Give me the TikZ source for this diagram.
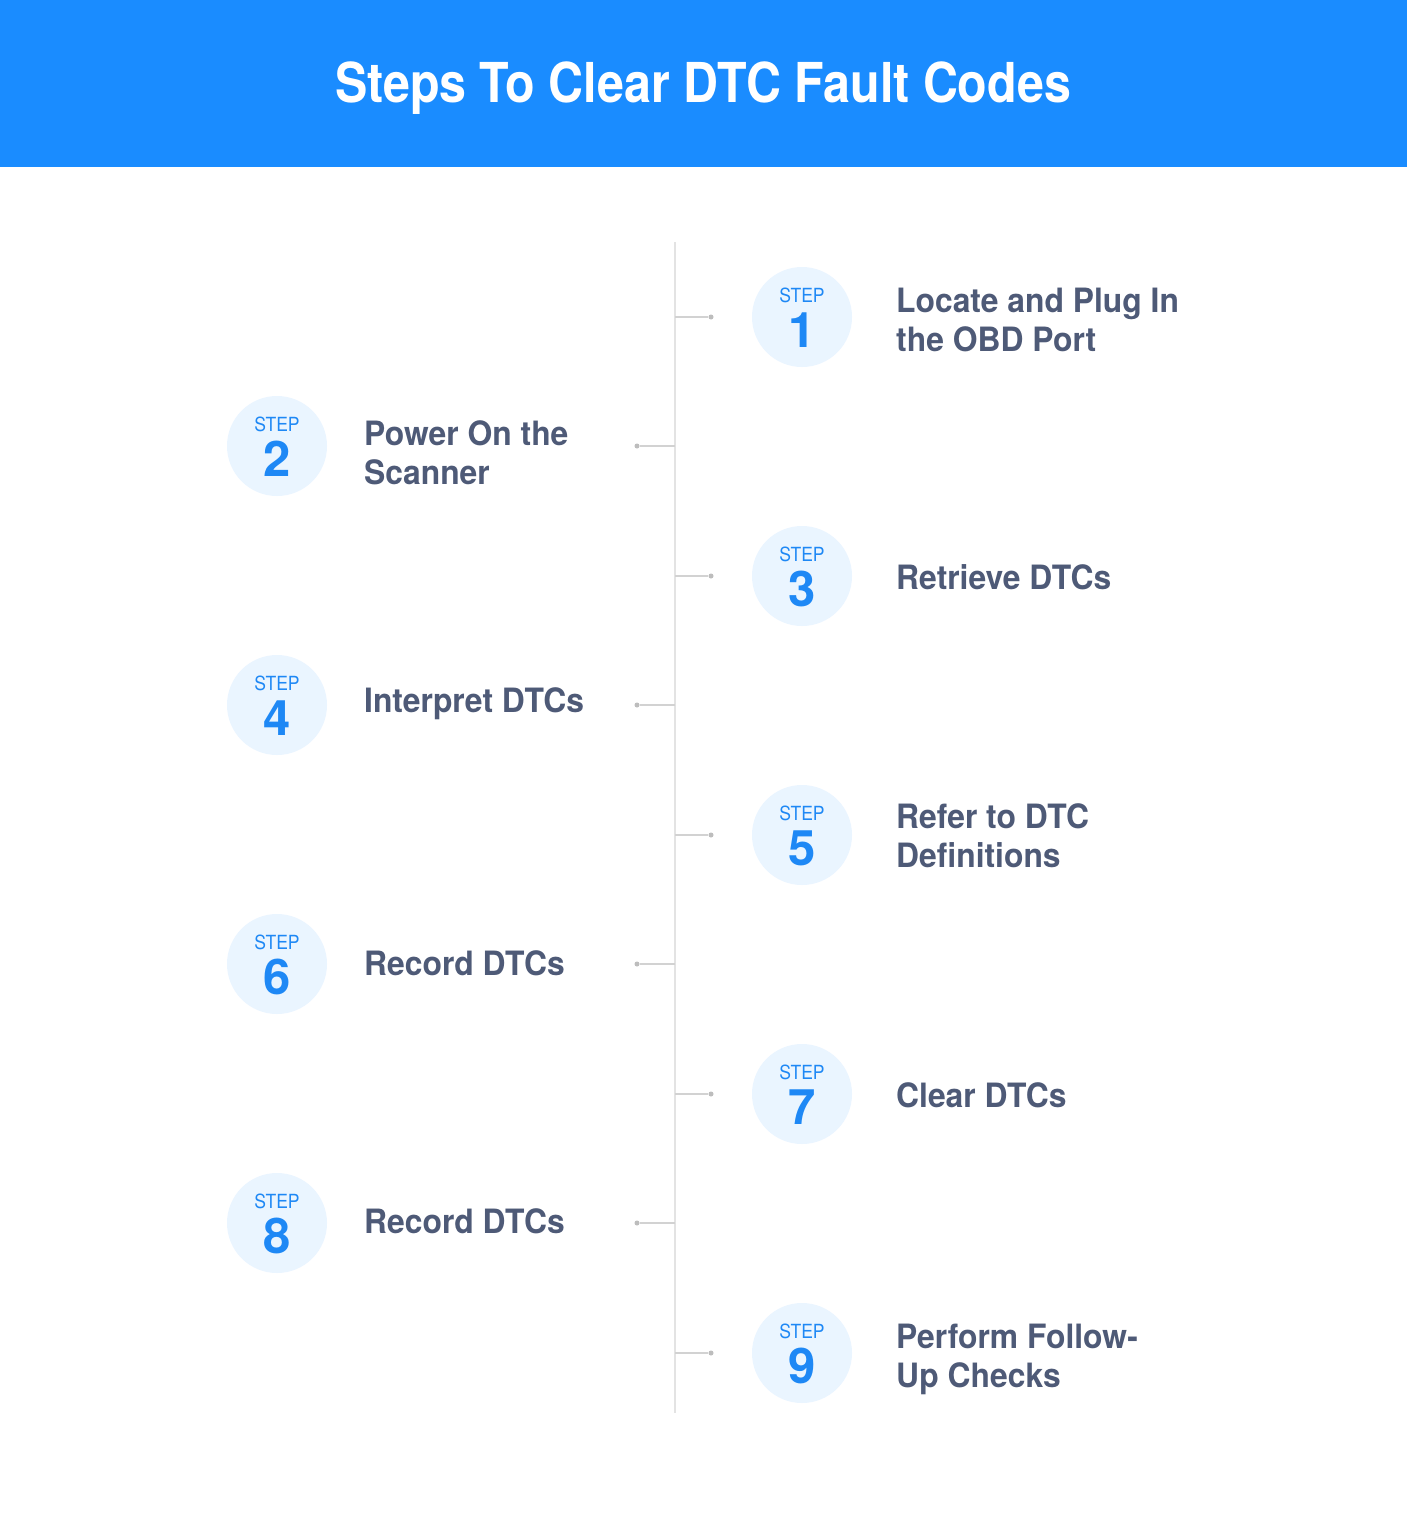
\documentclass[tikz,border=0pt]{standalone}
\usepackage{fontspec}
\setmainfont{TeX Gyre Heros}
\newfontfamily\titlef{TeX Gyre Heros}[FakeStretch=0.88]
\newfontfamily\labelf{TeX Gyre Heros}[FakeStretch=0.95]
\newfontfamily\stepf{TeX Gyre Heros}[FakeStretch=0.9]
\definecolor{hdrblue}{HTML}{1A8CFF}
\definecolor{stepblue}{HTML}{1E88F5}
\definecolor{circfill}{HTML}{EAF5FF}
\definecolor{labelcol}{HTML}{4E5A77}
\definecolor{spine}{HTML}{E3E3E3}
\definecolor{conn}{HTML}{D2D2D2}
\definecolor{dotcol}{HTML}{BDBDBD}
\tikzset{
  stepcirc/.style={circle, fill=circfill, minimum size=100pt, inner sep=0pt},
  steplbl/.style={text=stepblue, font=\stepf\fontsize{19.5}{19.5}\selectfont, anchor=base, inner sep=0pt},
  stepnum/.style={text=stepblue, font=\bfseries\fontsize{49}{49}\selectfont, anchor=base, inner sep=0pt},
  labeltext/.style={text=labelcol, font=\labelf\bfseries\fontsize{33.5}{39}\selectfont, anchor=west, align=left, inner sep=0pt},
  connline/.style={draw=conn, line width=1.5pt},
  dotstyle/.style={circle, fill=dotcol, minimum size=5pt, inner sep=0pt},
}
\begin{document}
\begin{tikzpicture}[x=1pt,y=-1pt]
\useasboundingbox (0,0) rectangle (1407,1536);
\fill[white] (0,0) rectangle (1407,1536);
\fill[hdrblue] (0,0) rectangle (1407,167);
\node[text=white, font=\titlef\bfseries\fontsize{55}{55}\selectfont, inner sep=0pt, anchor=base] (title) at (703,103) {Steps To Clear DTC Fault Codes};
\coordinate (top) at (675,242);
\coordinate (bot) at (675,1413);
\draw[spine, line width=2pt] (top) -- (bot);
% right steps
\foreach \n/\y in {1/317,3/576,5/835,7/1094,9/1353}{
  \node[stepcirc] (s\n) at (802,\y) {};
  \node[steplbl] (st\n) at ([yshift=15pt]s\n.center) {STEP};
  \node[stepnum] (sn\n) at ([yshift=-30pt]s\n.center) {\n};
  \coordinate (j\n) at (675,\y);
  \node[dotstyle] (d\n) at (711,\y) {};
  \draw[connline] (j\n) -- (d\n);
}
% left steps
\foreach \n/\y in {2/446,4/705,6/964,8/1223}{
  \node[stepcirc] (s\n) at (277,\y) {};
  \node[steplbl] (st\n) at ([yshift=15pt]s\n.center) {STEP};
  \node[stepnum] (sn\n) at ([yshift=-30pt]s\n.center) {\n};
  \coordinate (j\n) at (675,\y);
  \node[dotstyle] (d\n) at (637,\y) {};
  \draw[connline] (j\n) -- (d\n);
}
\node[labeltext] (l1) at (896,319.5) {Locate and Plug In\\the OBD Port};
\node[labeltext] (l2) at (364,452.5) {Power On the\\Scanner};
\node[labeltext] (l3) at (896,577) {Retrieve DTCs};
\node[labeltext] (l4) at (364,704) {Interpret DTCs};
\node[labeltext] (l5) at (896,835.5) {Refer to DTC\\Definitions};
\node[labeltext] (l6) at (364,963) {Record DTCs};
\node[labeltext] (l7) at (896,1095) {Clear DTCs};
\node[labeltext] (l8) at (364,1221) {Record DTCs};
\node[labeltext] (l9) at (896,1359.5) {Perform Follow-\\Up Checks};
\end{tikzpicture}
\end{document}
